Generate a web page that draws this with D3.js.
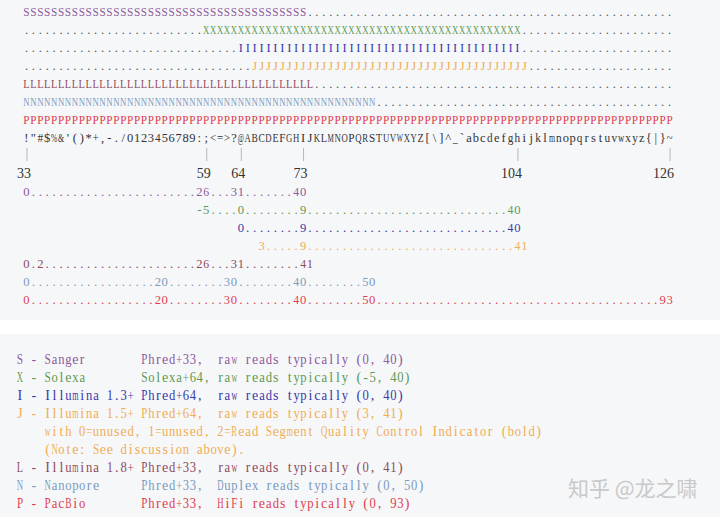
<!DOCTYPE html>
<html>
<head>
<meta charset="utf-8">
<script src="https://cdn.jsdelivr.net/npm/d3@7"></script>
<style>
  html, body { margin: 0; padding: 0; background: #ffffff; }
  svg { display: block; }
</style>
</head>
<body>
<svg id="chart" width="720" height="517"></svg>
<script>
// ascii range of the quality characters
var asciiFirst = 33;
var asciiLast = 126;

// one row per encoding
var encodingCodes = ['S', 'X', 'I', 'J', 'L', 'N', 'P'];
var encodingNames = ['Sanger', 'Solexa', 'Illumina 1.3+', 'Illumina 1.5+', 'Illumina 1.8+', 'Nanopore', 'PacBio'];
var offsetNames = ['Phred+33,', 'Solexa+64,', 'Phred+64,', 'Phred+64,', 'Phred+33,', 'Phred+33,', 'Phred+33,'];
var readTypes = ['raw', 'raw', 'raw', 'raw', 'raw', 'Duplex', 'HiFi'];
var rangeStart = [33, 59, 64, 66, 33, 33, 33];
var rangeEnd = [73, 104, 104, 105, 74, 83, 126];
var typicalLow = [0, -5, 0, 3, 0, 0, 0];
var typicalHigh = [40, 40, 40, 41, 41, 50, 93];

// score labels per encoding: [ascii code, score]
var scoreMarks = [
    [[33, '0'], [59, '26'], [64, '31'], [73, '40']],
    [[59, '-5'], [64, '0'], [73, '9'], [104, '40']],
    [[64, '0'], [73, '9'], [104, '40']],
    [[67, '3'], [73, '9'], [105, '41']],
    [[33, '0'], [35, '2'], [59, '26'], [64, '31'], [74, '41']],
    [[33, '0'], [53, '20'], [63, '30'], [73, '40'], [83, '50']],
    [[33, '0'], [53, '20'], [63, '30'], [73, '40'], [83, '50'], [126, '93']]
];

// ticks under the ascii row
var tickValues = [33, 59, 64, 73, 104, 126];

// J footnote lines
var noteLines = [
    'with 0=unused, 1=unused, 2=Read Segment Quality Control Indicator (bold)',
    '(Note: See discussion above).'
];

var colors = ['#8d5a9c', '#5f9a52', '#3a3aa6', '#f0ad55', '#8e4b5c', '#7b9bbd', '#dd3f4f'];
var dotColor = '#555555';
var inkColor = '#333333';
var charW = 6.915;
var lineH = 18;
var fontFamily = '"Liberation Serif", "DejaVu Serif", serif';

var svg = d3.select('#chart');

// background panels
svg.append('rect').attr('x', 0).attr('y', 0).attr('width', 720).attr('height', 320).attr('fill', '#f6f7f9');
svg.append('rect').attr('x', 0).attr('y', 334).attr('width', 720).attr('height', 183).attr('fill', '#f6f7f9');

// x of each ascii column (center)
var x = d3.scaleLinear()
    .domain([asciiFirst, asciiLast])
    .range([23 + charW / 2, 23 + charW / 2 + (asciiLast - asciiFirst) * charW]);

var codes = d3.range(asciiFirst, asciiLast + 1);

// squeeze wide glyphs into their cell, like a half-width font
function fitCell(sel) {
    var maxW = charW - 0.6;
    sel.each(function() {
        var t = d3.select(this);
        var w = this.getBBox().width;
        if (w > maxW) {
            var cx = +t.attr('x'), cy = +t.attr('y');
            t.attr('x', 0).attr('y', 0)
                .attr('transform', 'translate(' + cx + ',' + cy + ') scale(' + (maxW / w).toFixed(3) + ',1)');
        }
    });
}

/*
 * draws a list of {code, ch, color} cells on one line
 */
function drawCells(g, cells, y, size) {
    g.append('g')
        .selectAll('text')
        .data(cells)
        .enter().append('text')
        .attr('x', function(d) { return x(d.code); })
        .attr('y', y)
        .attr('text-anchor', 'middle')
        .attr('font-family', fontFamily)
        .attr('font-size', size)
        .attr('fill', function(d) { return d.color; })
        .text(function(d) { return d.ch; })
        .call(fitCell);
}

var chartG = svg.append('g');

// letter rows
encodingCodes.forEach(function(code, i) {
    var cells = codes.map(function(c) {
        var inside = c >= rangeStart[i] && c <= rangeEnd[i];
        return { code: c, ch: inside ? code : '.', color: inside ? colors[i] : dotColor };
    });
    drawCells(chartG, cells, 16 + i * lineH, 12.5);
});

// ascii row
drawCells(chartG, codes.map(function(c) {
    return { code: c, ch: String.fromCharCode(c), color: inkColor };
}), 16 + 7 * lineH, 12.5);

// ticks
var axis = d3.axisBottom(x)
    .tickValues(tickValues)
    .tickSize(13)
    .tickPadding(4)
    .tickFormat(d3.format('d'));

var axisG = svg.append('g')
    .attr('transform', 'translate(0,148)')
    .call(axis);
axisG.select('.domain').remove();
axisG.selectAll('line').attr('stroke', '#b8b8b8');
axisG.selectAll('text')
    .attr('text-anchor', 'end')
    .attr('dx', charW / 2 + 0.5)
    .attr('dy', 0)
    .attr('y', 30)
    .attr('font-family', fontFamily)
    .attr('font-size', 14)
    .attr('fill', inkColor);

// score rows
scoreMarks.forEach(function(marks, i) {
    var cells = {};
    marks.forEach(function(m) {
        var s = m[1];
        for (var k = 0; k < s.length; k++) {
            var c = m[0] - s.length + 1 + k;
            cells[c] = { code: c, ch: s[k], color: colors[i] };
        }
    });
    var keys = Object.keys(cells).map(Number);
    var lo = d3.min(keys), hi = d3.max(keys);
    var list = [];
    for (var c = lo; c <= hi; c++) {
        list.push(cells[c] || { code: c, ch: '.', color: colors[i] });
    }
    drawCells(chartG, list, 196 + i * lineH, 13);
});

// legend lines, laid out on a fixed character grid
var legendLeft = 16.5;
function drawLine(str, col, y, color) {
    svg.append('g')
        .selectAll('text')
        .data(str.split(''))
        .enter().append('text')
        .attr('x', function(d, k) { return legendLeft + (col + k + 0.5) * charW; })
        .attr('y', y)
        .attr('text-anchor', 'middle')
        .attr('font-family', fontFamily)
        .attr('font-size', 14)
        .attr('fill', color)
        .text(function(d) { return d; })
        .call(fitCell);
}

var ly = 364;
encodingCodes.forEach(function(code, i) {
    var line = code + ' - ' + encodingNames[i].padEnd(14) + offsetNames[i].padEnd(11) +
        readTypes[i] + ' reads typically (' + typicalLow[i] + ', ' + typicalHigh[i] + ')';
    drawLine(line, 0, ly, colors[i]);
    ly += lineH;
    if (code === 'J') {
        noteLines.forEach(function(t) {
            drawLine(t, 4, ly, colors[i]);
            ly += lineH;
        });
    }
});

// watermark
svg.append('text')
    .attr('x', 568)
    .attr('y', 496)
    .attr('font-family', '"Noto Sans CJK SC", sans-serif')
    .attr('font-size', 21)
    .attr('fill', '#c9c9c9')
    .text('知乎 @龙之啸');
</script>
</body>
</html>
